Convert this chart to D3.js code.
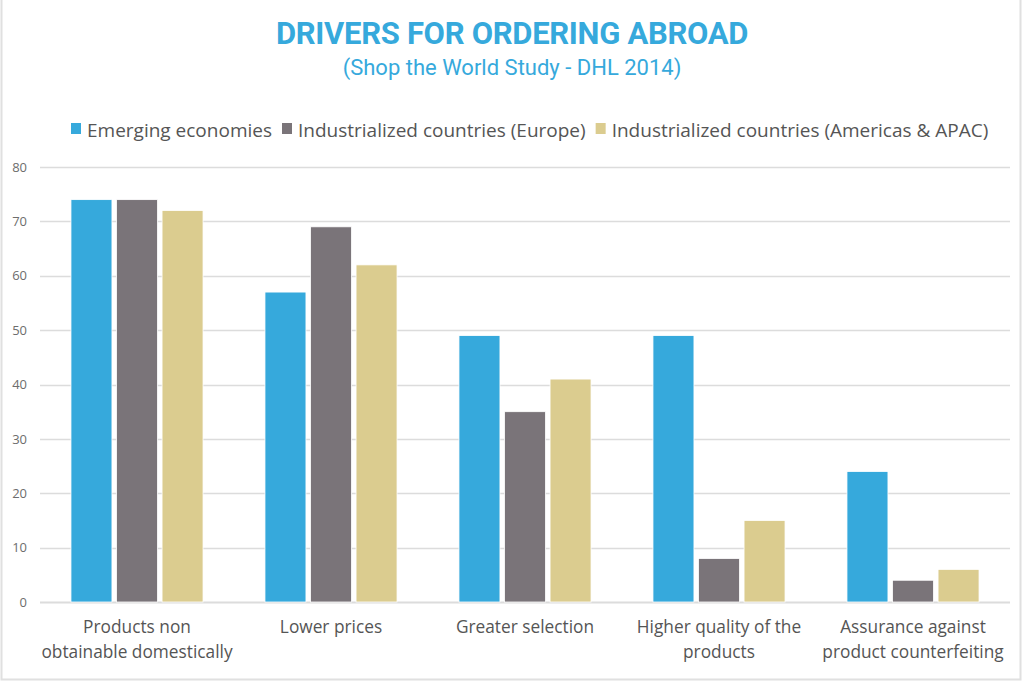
<!DOCTYPE html>
<html><head><meta charset="utf-8">
<script src="https://cdn.jsdelivr.net/npm/d3@7"></script>
<style>body{margin:0;background:#fff;}svg{display:block;}</style>
</head><body>
<script>
const categories = [["Products non","obtainable domestically"],["Lower prices"],["Greater selection"],["Higher quality of the","products"],["Assurance against","product counterfeiting"]];
const seriesNames = ["Emerging economies","Industrialized countries (Europe)","Industrialized countries (Americas & APAC)"];
const emerging = [74,57,49,49,24];
const europe = [74,69,35,8,4];
const americas = [72,62,41,15,6];
const yTicks = [0,10,20,30,40,50,60,70,80];
const colors = ["#36a9dc","#7a7479","#dbcc8f"];

const W=1024,H=682;
const svg=d3.select("body").append("svg").attr("width",W).attr("height",H);
svg.append("rect").attr("width",W).attr("height",H).attr("fill","#fff");
svg.append("path").attr("d","M1.5,0V679.5H1020.5V0").attr("fill","none").attr("stroke","#e0e0e0").attr("stroke-width",2);

const x0=d3.scaleBand().domain(d3.range(5)).range([40,1010]);
const x1=d3.scaleBand().domain(d3.range(3)).range([0,x0.bandwidth()]).paddingInner(0.1).paddingOuter(0.68);
const y=d3.scaleLinear().domain([0,80]).range([602,167]);

svg.append("text").attr("x",512).attr("y",44).attr("text-anchor","middle").attr("fill","#36a9dc")
  .attr("font-family","Roboto, sans-serif").attr("font-weight","bold").attr("font-size",31).attr("letter-spacing","-0.3")
  .text("DRIVERS FOR ORDERING ABROAD");
svg.append("text").attr("x",512).attr("y",75).attr("text-anchor","middle").attr("fill","#36a9dc")
  .attr("font-family","Roboto, sans-serif").attr("font-size",22)
  .text("(Shop the World Study - DHL 2014)");

const g=svg.append("g");
g.selectAll("line.grid").data(yTicks).join("line").attr("class","grid")
  .attr("x1",40).attr("x2",1010).attr("y1",d=>Math.round(y(d))+0.5).attr("y2",d=>Math.round(y(d))+0.5)
  .attr("stroke","#dcdcdc").attr("stroke-width",d=>d===0?2:1.5);
const yAxis=d3.axisLeft(y).tickValues(yTicks).tickSize(0).tickPadding(0);
const ya=svg.append("g").attr("transform","translate(27,0)").call(yAxis);
ya.select(".domain").remove();
ya.selectAll("text").attr("font-family","'Open Sans', sans-serif").attr("font-size",13).attr("fill","#6d6d6d");

const data=[emerging,europe,americas];
data.forEach((vals,s)=>{
  svg.append("g").selectAll("rect").data(vals).join("rect")
   .attr("x",(d,i)=>x0(i)+x1(s)).attr("width",x1.bandwidth())
   .attr("y",d=>y(d)).attr("height",d=>y(0)-y(d))
   .attr("fill",colors[s]).attr("stroke","#fff").attr("stroke-width",0.8);
});

const xl=svg.append("g");
categories.forEach((lines,i)=>{
  const cx=x0(i)+x0.bandwidth()/2;
  const t=xl.append("text").attr("x",cx).attr("y",633).attr("text-anchor","middle")
   .attr("font-family","'Open Sans', sans-serif").attr("font-size",17.3).attr("fill","#555");
  lines.forEach((l,j)=>t.append("tspan").attr("x",cx).attr("dy",j?24.5:0).text(l));
});

const leg=svg.append("g");
let lx=71;
seriesNames.forEach((n,s)=>{
  leg.append("rect").attr("x",lx).attr("y",123).attr("width",10).attr("height",11).attr("fill",colors[s]);
  const t=leg.append("text").attr("x",lx+16).attr("y",137).attr("font-family","'Open Sans', sans-serif")
   .attr("font-size",19).attr("fill","#555").text(n);
  lx+=16+t.node().getComputedTextLength()+10;
});
</script>
</body></html>
